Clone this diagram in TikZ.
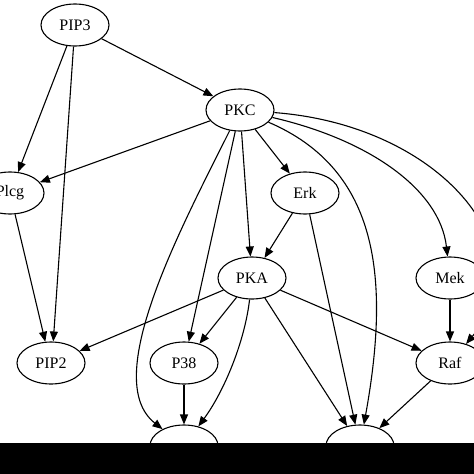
\documentclass[tikz,border=0pt]{standalone}
\usepackage{fontspec}
\setmainfont{Liberation Serif}
\usepackage{tikz}
\usetikzlibrary{arrows.meta, shapes.geometric}

\begin{document}
\begin{tikzpicture}[x=1pt, y=-1pt,
  gnode/.style={draw, ellipse, line width=1.1pt, minimum width=68pt, minimum height=42pt,
    inner sep=0pt, font=\fontsize{16}{18}\selectfont},
  edge/.style={line width=1.1pt, -{Triangle[length=10pt, width=8pt]}}]
\useasboundingbox (0,0) rectangle (474,474);
\clip (0,0) rectangle (474,474);
% ===== nodes =====
\node[gnode] (pip3) at (75,25)  {PIP3};
\node[gnode] (pkc)  at (240,110) {PKC};
\node[gnode] (plcg) at (10,193) {Plcg};
\node[gnode] (erk)  at (305,193) {Erk};
\node[gnode] (pka)  at (252,278) {PKA};
\node[gnode] (mek)  at (450,278) {Mek};
\node[gnode] (pip2) at (51,363) {PIP2};
\node[gnode] (p38)  at (184,363) {P38};
\node[gnode] (raf)  at (450,363) {Raf};
\node[gnode] (bl)   at (184,446) {};
\node[gnode] (br)   at (360,446) {};
% ===== straight edges =====
\foreach \a/\b in {pip3/pkc, pip3/plcg, pkc/plcg, pkc/erk, pkc/pka, pkc/p38,
  erk/pka, erk/br, pka/pip2, pka/p38, pka/br, pka/raf, p38/bl, mek/raf, raf/br}{
  \draw[edge] (\a) -- (\b);
}
\draw[edge] (pip3) -- (pip2.84);
\draw[edge] (plcg) -- (pip2.105);
% ===== curved edges =====
\draw[edge] (pkc) .. controls (180,230) and (100,380) .. (bl);
\draw[edge] (pka) .. controls (245,340) and (225,390) .. (bl);
\draw[edge] (pkc) .. controls (380,170) and (390,280) .. (br);
\draw[edge] (pkc) .. controls (370,140) and (440,190) .. (mek);
\draw[edge] (pkc) .. controls (440,125) and (545,250) .. (raf);
% ===== bottom bar =====
\fill[black] (0,443) rectangle (474,474);
\end{tikzpicture}
\end{document}
